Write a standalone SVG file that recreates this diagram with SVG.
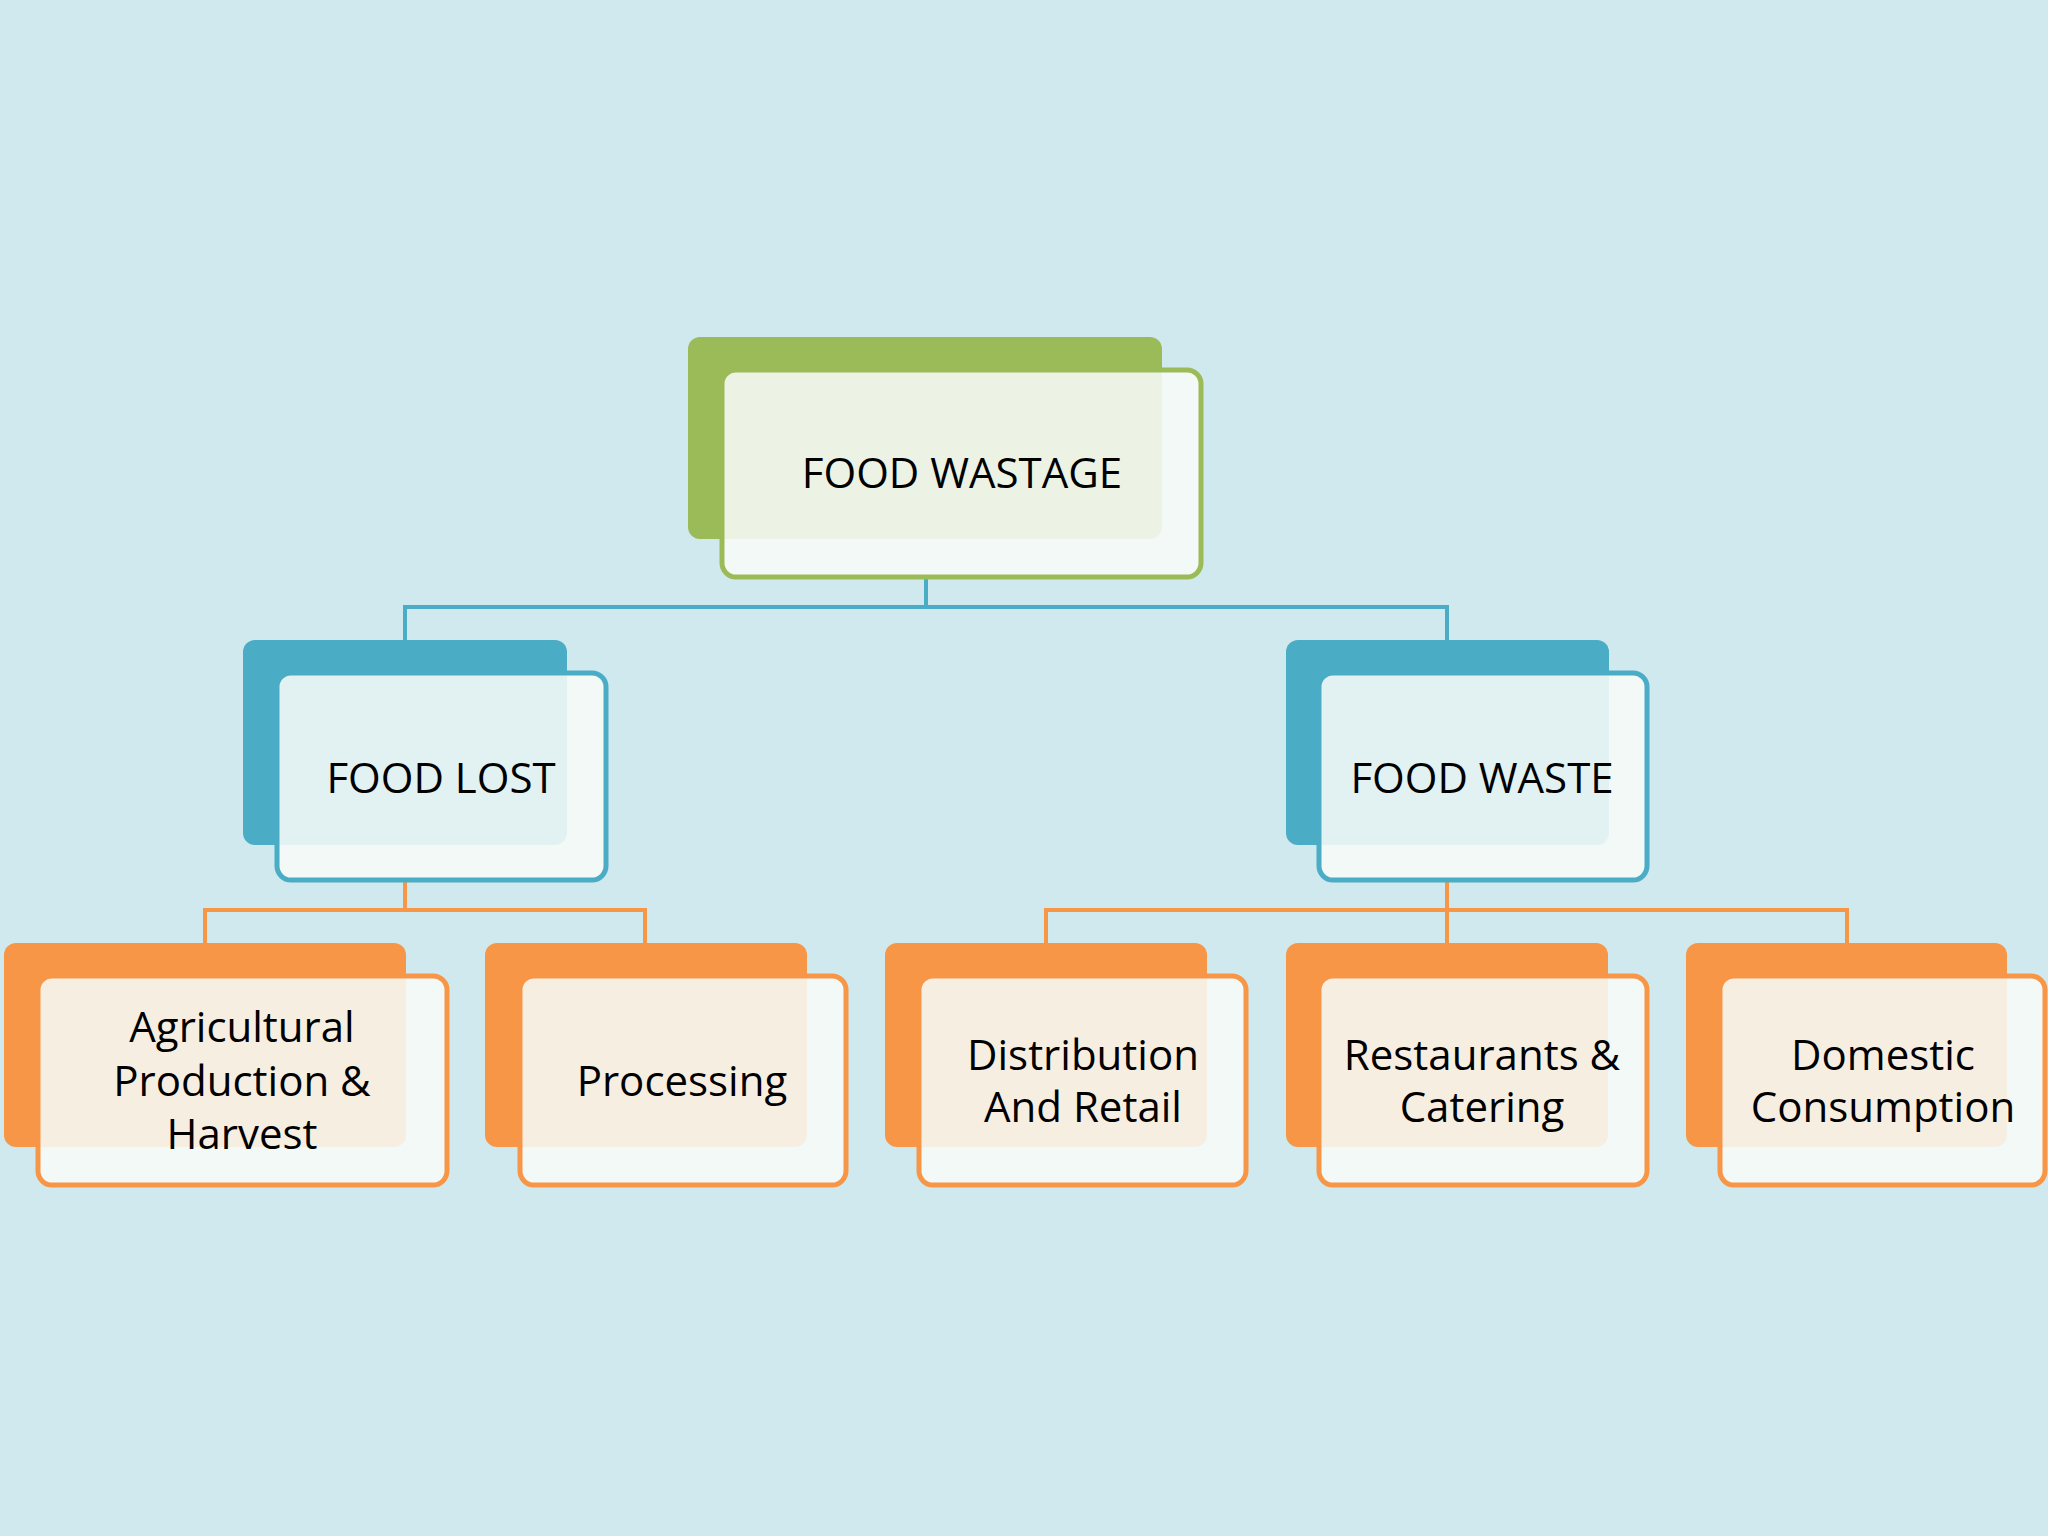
<svg xmlns="http://www.w3.org/2000/svg" width="2048" height="1536" viewBox="0 0 2048 1536">
<style>
text{font-family:"Open Sans","Liberation Sans",sans-serif;font-size:42px;fill:#000;text-anchor:middle;dominant-baseline:central}
.f{fill:#f7fbf8;fill-opacity:0.88;stroke-width:5}
.g{fill:#9bbb59}.gs{stroke:#9bbb59}
.b{fill:#4bacc6}.bs{stroke:#4bacc6}
.o{fill:#f79646}.os{stroke:#f79646}
.c{fill:none;stroke-width:4}
</style>
<rect width="2048" height="1536" fill="#cfe9ee"/>
<g id="connectors">
<path class="c bs" d="M926 577V607M405 640V607H1447V640"/>
<path class="c os" d="M405 880V910M205 943V910H645V943"/>
<path class="c os" d="M1447 880V943M1046 943V910H1847V943"/>
</g>
<g id="food-wastage"><rect class="g" x="688" y="337" width="474" height="202" rx="12"/><rect class="f gs" x="722" y="370" width="479" height="207" rx="14"/><text x="962" y="471">FOOD WASTAGE</text></g>
<g id="food-lost"><rect class="b" x="243" y="640" width="324" height="205" rx="12"/><rect class="f bs" x="277" y="673" width="329" height="207" rx="14"/><text x="441" y="776">FOOD LOST</text></g>
<g id="food-waste"><rect class="b" x="1286" y="640" width="323" height="205" rx="12"/><rect class="f bs" x="1319" y="673" width="328" height="207" rx="14"/><text x="1482" y="776">FOOD WASTE</text></g>
<g id="agri"><rect class="o" x="4" y="943" width="402" height="204" rx="12"/><rect class="f os" x="38" y="976" width="409" height="209" rx="14"/><text x="242" y="1025">Agricultural</text><text x="242" y="1079">Production &amp;</text><text x="242" y="1132">Harvest</text></g>
<g id="processing"><rect class="o" x="485" y="943" width="322" height="204" rx="12"/><rect class="f os" x="520" y="976" width="326" height="209" rx="14"/><text x="682" y="1079">Processing</text></g>
<g id="distribution"><rect class="o" x="885" y="943" width="322" height="204" rx="12"/><rect class="f os" x="919" y="976" width="327" height="209" rx="14"/><text x="1083" y="1053">Distribution</text><text x="1083" y="1105">And Retail</text></g>
<g id="restaurants"><rect class="o" x="1286" y="943" width="322" height="204" rx="12"/><rect class="f os" x="1319" y="976" width="328" height="209" rx="14"/><text x="1482" y="1053">Restaurants &amp;</text><text x="1482" y="1105">Catering</text></g>
<g id="domestic"><rect class="o" x="1686" y="943" width="321" height="204" rx="12"/><rect class="f os" x="1720" y="976" width="325" height="209" rx="14"/><text x="1883" y="1053">Domestic</text><text x="1883" y="1105">Consumption</text></g>
</svg>
